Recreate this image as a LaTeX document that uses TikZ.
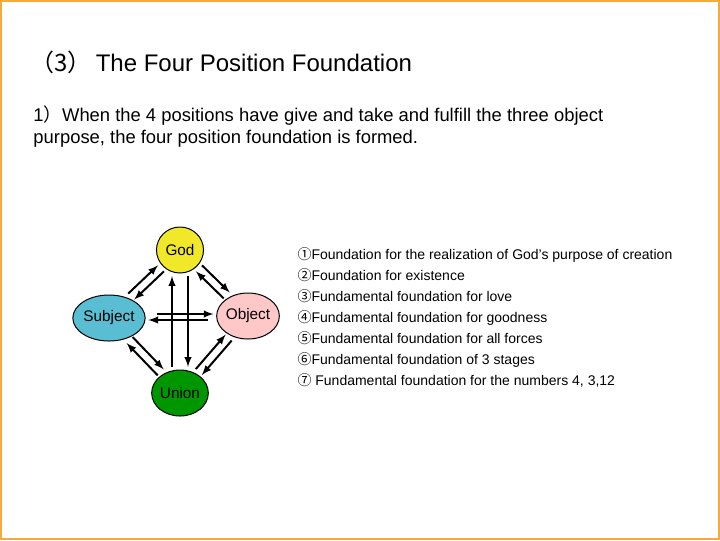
\documentclass[tikz,border=0pt]{standalone}
\usepackage{fontspec}
\setmainfont{Liberation Sans}
\newfontfamily\cjk{Noto Sans CJK JP}
\tikzset{every picture/.style={line width=0.75pt}}
\tikzset{
	pos/.style={ellipse, draw=black, line width=0.75pt, minimum width=#1*0.75pt, minimum height=34.5pt, inner sep=0pt, font=\fontsize{11.5}{13}\selectfont},
	arr/.style={-latex, line width=1.5pt, shorten >=2pt, shorten <=2pt},
	item/.style={anchor=base west, inner sep=0pt, font=\fontsize{10.5}{12}\selectfont}
}
\usetikzlibrary{shapes.geometric,arrows}
\definecolor{frameOrange}{RGB}{245,170,60}
\definecolor{godYellow}{RGB}{240,232,40}
\definecolor{subjBlue}{RGB}{90,190,210}
\definecolor{objPink}{RGB}{255,200,200}
\definecolor{unionGreen}{RGB}{0,150,0}

\begin{document}
\begin{tikzpicture}[x=0.75pt,y=0.75pt,yscale=-1,xscale=1]
	\useasboundingbox (0,0) rectangle (720,540);
	%Frame
	\draw [color=frameOrange, line width=1.2pt] (1,1) rectangle (719,539);
	
	% Text Node
	\node [anchor=west, inner sep=0pt, font=\fontsize{18}{22}\selectfont] (title) at (30,62) {{\cjk （3）}\,The Four Position Foundation};
	% Text Node
	\node [anchor=north west, inner sep=0pt, align=left, font=\fontsize{13.8}{16.5}\selectfont] (intro) at (33,105) {1{\cjk ）}When the 4 positions have give and take and fulfill the three object\\purpose, the four position foundation is formed.};
	
	% Positions
	\node [pos=47, fill=godYellow] (god) at (180,250) {God};
	\node [pos=58, fill=subjBlue] (subject) at (109,318) {Subject};
	\node [pos=60, fill=objPink] (object) at (248,316) {Object};
	\node [pos=50, fill=unionGreen] (union) at (180,393) {Union};
	
	% Give and take
	\draw [arr] ([shift={(-3,-3)}]subject.44) -- ([shift={(-3,-3)}]god.224);
	\draw [arr] ([shift={(3,3)}]god.224) -- ([shift={(3,3)}]subject.44);
	\draw [arr] ([shift={(3,-3)}]god.316) -- ([shift={(3,-3)}]object.136);
	\draw [arr] ([shift={(-3,3)}]object.136) -- ([shift={(-3,3)}]god.316);
	\draw [arr] ([shift={(9,-4)}]subject.east) -- ([shift={(0,-2)}]object.west);
	\draw [arr] ([shift={(-6,4)}]object.west) -- ([shift={(0,2)}]subject.east);
	\draw [arr] ([xshift=-6]union.north) -- ([xshift=-6]god.south);
	\draw [arr] ([xshift=6]god.south) -- ([xshift=6]union.north);
	\draw [arr] ([shift={(3,-3)}]subject.313) -- ([shift={(3,-3)}]union.133);
	\draw [arr] ([shift={(-3,3)}]union.133) -- ([shift={(-3,3)}]subject.313);
	\draw [arr] ([shift={(-3,-3)}]union.48) -- ([shift={(-3,-3)}]object.228);
	\draw [arr] ([shift={(3,3)}]object.228) -- ([shift={(3,3)}]union.48);
	
	% List
	\node [item] (i1) at (297,259) {{\cjk ①}Foundation for the realization of God's purpose of creation};
	\node [item] (i2) at (297,280) {{\cjk ②}Foundation for existence};
	\node [item] (i3) at (297,301) {{\cjk ③}Fundamental foundation for love};
	\node [item] (i4) at (297,322) {{\cjk ④}Fundamental foundation for goodness};
	\node [item] (i5) at (297,343) {{\cjk ⑤}Fundamental foundation for all forces};
	\node [item] (i6) at (297,364) {{\cjk ⑥}Fundamental foundation of 3 stages};
	\node [item] (i7) at (297,385) {{\cjk ⑦} Fundamental foundation for the numbers 4, 3,12};
\end{tikzpicture}
\end{document}
